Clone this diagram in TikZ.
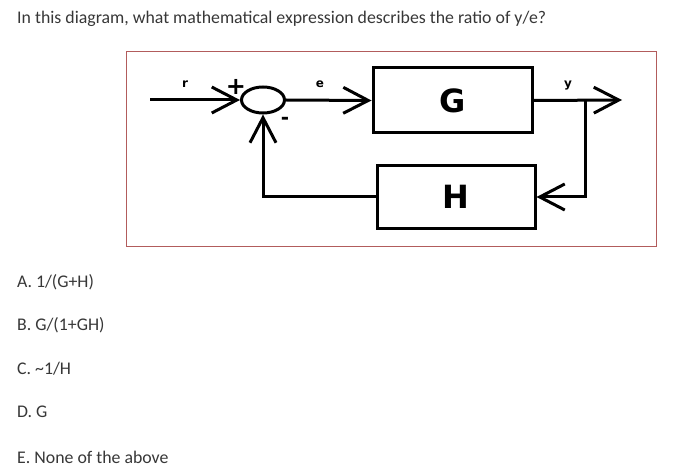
\documentclass[tikz,border=0pt]{standalone}
\usepackage{fontspec}
\setmainfont{Carlito}
\newfontfamily\diafont{DejaVu Sans}
\usetikzlibrary{arrows.meta,shapes.geometric}
\definecolor{txt}{RGB}{55,55,55}
\definecolor{framecol}{RGB}{178,92,92}
\tikzset{
  qtext/.style={anchor=west, inner sep=0pt, text=txt, font=\fontsize{17.8}{20}\selectfont},
  blockbox/.style={draw, line width=3pt, inner sep=0pt, font=\diafont\bfseries\fontsize{32}{32}\selectfont},
  sig/.style={inner sep=0pt, font=\diafont\bfseries\fontsize{12}{12}\selectfont},
  conn/.style={line width=3pt, -{Straight Barb[length=25pt,width=26pt,line width=3pt]}}
}
\begin{document}
\begin{tikzpicture}[x=1pt,y=-1pt]
\useasboundingbox (0,0) rectangle (700,470);
\node[qtext] (title) at (17,19) {In this diagram, what mathematical expression describes the ratio of y/e?};
\draw[framecol, line width=1pt] (126,52) rectangle (656,246);
\node[draw, ellipse, line width=3pt, minimum width=43pt, minimum height=26pt, inner sep=0pt] (sum) at (263,100) {};
\node[blockbox, minimum width=159pt, minimum height=65pt] (G) at (452.5,100.5) {G};
\node[blockbox, minimum width=158pt, minimum height=63pt] (H) at (456,197) {H};
\coordinate (start) at (150,100);
\coordinate (out) at (622,100);
\coordinate (branch) at (585,100);
\draw[conn] (start) -- (sum.west);
\draw[conn] (sum.east) -- (G.west);
\draw[conn] (G.east) -- (out);
\draw[conn] (branch) |- (H.east);
\draw[conn] (H.west) -| (sum.south);
\node[sig] (r) at (185,84) {r};
\node[sig] (e) at (320,84) {e};
\node[sig] (y) at (568,86) {y};
\node[sig, font=\diafont\bfseries\fontsize{24}{24}\selectfont] (plus) at (236,87) {+};
\node[sig, font=\diafont\bfseries\fontsize{20}{20}\selectfont] (minus) at (285,121) {-};
\node[qtext] (optA) at (17,282) {A. 1/(G+H)};
\node[qtext] (optB) at (17,325) {B. G/(1+GH)};
\node[qtext] (optC) at (17,369) {C. \textasciitilde1/H};
\node[qtext] (optD) at (17,412) {D. G};
\node[qtext] (optE) at (17,457) {E. None of the above};
\end{tikzpicture}
\end{document}
